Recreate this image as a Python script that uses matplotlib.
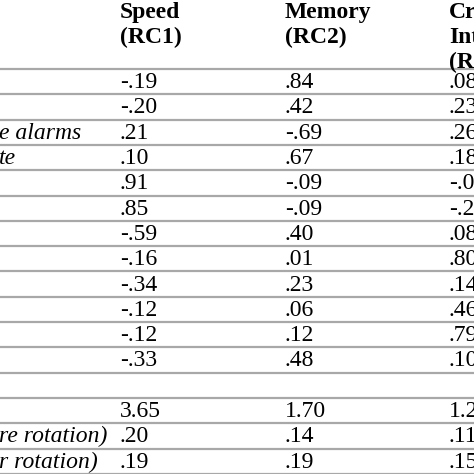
import matplotlib
matplotlib.use("Agg")
import matplotlib.pyplot as plt

headers = [["Speed", "(RC1)"], ["Memory", "(RC2)"], ["Cry", "Int", "(RC"]]
left_labels = ["", "", "e alarms", "te", "", "", "", "", "", "", "", "", "",
               "", "re rotation)", "r rotation)"]
rc1 = ["-.19", "-.20", ".21", ".10", ".91", ".85", "-.59", "-.16", "-.34", "-.12", "-.12", "-.33",
       "", "3.65", ".20", ".19"]
rc2 = [".84", ".42", "-.69", ".67", "-.09", "-.09", ".40", ".01", ".23", ".06", ".12", ".48",
       "", "1.70", ".14", ".19"]
rc3 = [".08", ".23", ".26", ".18", "-.05", "-.28", ".08", ".80", ".14", ".46", ".79", ".10",
       "", "1.2", ".11", ".15"]

plt.rcParams['font.family'] = ['Liberation Serif', 'DejaVu Serif']
fig = plt.figure(figsize=(4.74, 4.74), dpi=100)
ax = fig.add_axes([0, 0, 1, 1])
ax.set_xlim(0, 474)
ax.set_ylim(474, 0)
ax.axis("off")

# the reference is a crop, so the right column is cut off at the edge
col_x = [120, 285, 449]
fs = 17
for x, lines in zip(col_x, headers):
    for k, t in enumerate(lines):
        ax.text(x, 12 + k * 25, t, fontsize=fs, fontweight="bold", va="center", ha="left")

top = 69
step = 25.3
for i in range(len(rc1) + 1):
    y = top + i * step
    ax.plot([0, 474], [y, y], color="#a8a8a8", lw=1.6)
for i in range(len(rc1)):
    yc = top + (i + 0.5) * step + 1
    if left_labels[i]:
        ax.text(-1, yc, left_labels[i], fontsize=fs, style="italic", va="center", ha="left")
    for x, col in zip(col_x, [rc1, rc2, rc3]):
        ax.text(x, yc, col[i], fontsize=fs, va="center", ha="left")

fig.savefig("out.png", dpi=100)
